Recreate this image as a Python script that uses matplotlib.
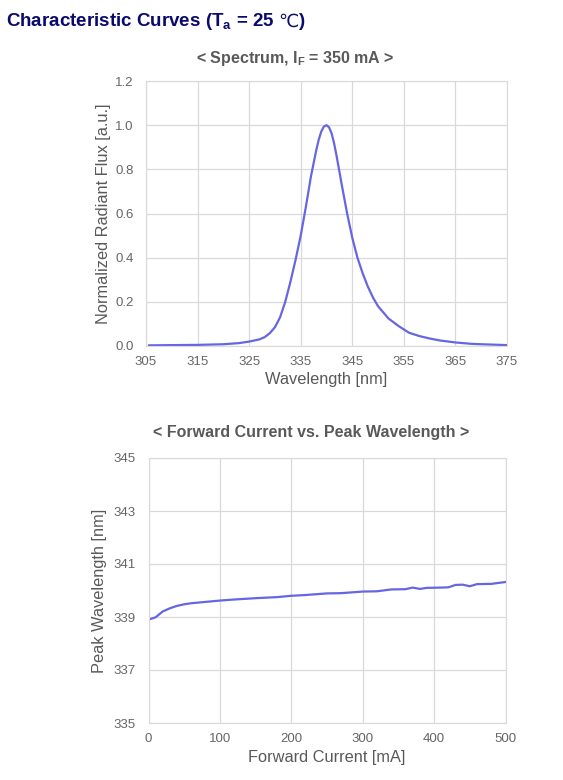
import matplotlib
matplotlib.use('Agg')
import matplotlib.pyplot as plt

plt.rcParams['font.family'] = ['Liberation Sans', 'DejaVu Sans']

# spectrum at IF = 350 mA
wavelength = [305.6, 310, 315, 320, 323, 325, 327, 328, 329, 330, 331, 332, 333, 334, 335,
              336, 337, 338, 338.5, 339, 339.5, 340, 340.5, 341, 341.5, 342, 343, 344, 345,
              346, 347, 348, 349, 350, 352, 354, 355, 356, 358, 360, 362, 365, 368, 370, 375]
flux = [0.003, 0.004, 0.005, 0.008, 0.013, 0.02, 0.03, 0.04, 0.058, 0.085, 0.13, 0.2, 0.29,
        0.39, 0.5, 0.63, 0.77, 0.885, 0.935, 0.972, 0.994, 1.0, 0.99, 0.962, 0.915, 0.855,
        0.725, 0.6, 0.49, 0.4, 0.33, 0.27, 0.22, 0.18, 0.125, 0.09, 0.075, 0.06, 0.045,
        0.034, 0.025, 0.016, 0.01, 0.008, 0.004]

# forward current vs peak wavelength
current = [0, 10, 20, 30, 40, 50, 60, 80, 100, 120, 150, 180, 200, 220, 250, 270, 300,
           320, 340, 360, 370, 380, 390, 410, 420, 430, 440, 450, 460, 480, 500]
peak = [338.90, 338.99, 339.21, 339.33, 339.42, 339.48, 339.52, 339.57, 339.62, 339.66,
        339.71, 339.75, 339.80, 339.83, 339.89, 339.90, 339.96, 339.97, 340.04, 340.05,
        340.11, 340.06, 340.10, 340.11, 340.12, 340.21, 340.22, 340.16, 340.24, 340.25,
        340.32]

line_col = '#6666e2'
grid_col = '#d9d9d9'
text_col = '#595959'
tick_col = '#666666'

fig = plt.figure(figsize=(5.63, 7.80), dpi=100)

# main title, the degree-celsius sign is drawn separately (not in Liberation Sans)
t1 = fig.text(6/563, 1 - 22/780, 'Characteristic Curves (T$_\\mathregular{a}$ = 25',
              fontsize=13.5, fontweight='bold', color='#0a0a6e', va='center', ha='left')
fig.canvas.draw()
bb = t1.get_window_extent()
t2 = fig.text((bb.x1 + 3.5) / 563, 1 - 22/780, '\u2103', family='DejaVu Sans',
              fontsize=13, color='#0a0a6e', va='center', ha='left')
fig.canvas.draw()
bb2 = t2.get_window_extent()
fig.text((bb2.x1 + 1) / 563, 1 - 22/780, ')', fontsize=13.5, fontweight='bold',
         color='#0a0a6e', va='center', ha='left')


def style_ax(ax):
    for s in ax.spines.values():
        s.set_color(grid_col)
    ax.grid(True, color=grid_col, linewidth=0.9)
    ax.set_axisbelow(True)
    ax.tick_params(length=0, colors=tick_col, labelsize=9.5)


ax1 = fig.add_axes([146/563, 1 - 346/780, 361/563, 265/780])
ax1.plot(wavelength, flux, color=line_col, linewidth=1.6)
ax1.set_xlim(305, 375)
ax1.set_ylim(0, 1.2)
ax1.set_xticks(range(305, 376, 10))
ax1.set_yticks([0, 0.2, 0.4, 0.6, 0.8, 1.0, 1.2])
ax1.set_yticklabels(['0.0', '0.2', '0.4', '0.6', '0.8', '1.0', '1.2'])
style_ax(ax1)
ax1.tick_params(axis='y', pad=9)
ax1.tick_params(axis='x', pad=7)
ax1.set_xlabel('Wavelength [nm]', fontsize=11.8, color=text_col, labelpad=3)
ax1.set_ylabel('Normalized Radiant Flux [a.u.]', fontsize=11.8, color=text_col, labelpad=3)
fig.text(295/563, 1 - 58/780, '< Spectrum, I$_\\mathregular{F}$ = 350 mA >', fontsize=11.5,
         fontweight='bold', color=text_col, ha='center', va='center')

ax2 = fig.add_axes([148.5/563, 1 - 723/780, 357/563, 265/780])
ax2.plot(current, peak, color=line_col, linewidth=1.6)
ax2.set_xlim(0, 500)
ax2.set_ylim(335, 345)
ax2.set_xticks(range(0, 501, 100))
ax2.set_yticks(range(335, 346, 2))
style_ax(ax2)
ax2.tick_params(axis='y', pad=9)
ax2.tick_params(axis='x', pad=7)
ax2.set_xlabel('Forward Current [mA]', fontsize=11.8, color=text_col, labelpad=4)
ax2.set_ylabel('Peak Wavelength [nm]', fontsize=11.8, color=text_col, labelpad=5)
fig.text(311/563, 1 - 432/780, '< Forward Current vs. Peak Wavelength >', fontsize=11.5,
         fontweight='bold', color=text_col, ha='center', va='center')

fig.savefig('out.png', dpi=100)
